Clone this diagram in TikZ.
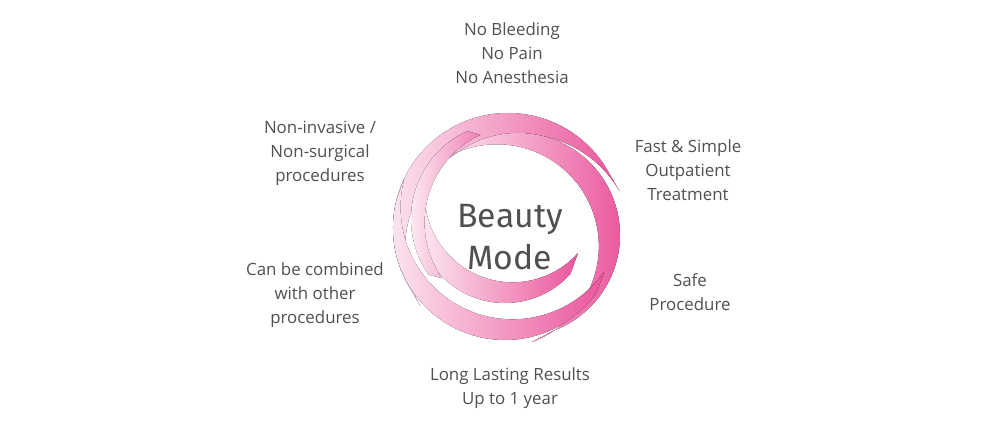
\documentclass[tikz,border=0pt]{standalone}
\usepackage{fontspec}
\setmainfont{Open Sans}
\newfontfamily\titlefont{Fira Sans}
\definecolor{rosy}{RGB}{234,86,156}
\definecolor{labelgray}{RGB}{80,80,80}
% crescent: center x, center y, radius, start, end, shift angle, shift
\newcommand{\crescent}[7]{%
  \fill[left color=rosy!12, right color=rosy]
    (#1,#2) ++(#4:#3) arc[start angle=#4, end angle=#5, radius=#3]
    -- ($(#1,#2)+(#6:#7)+(#5:#3)$) arc[start angle=#5, end angle=#4, radius=#3] -- cycle;}
\usetikzlibrary{calc}
\begin{document}
\begin{tikzpicture}[x=0.025cm,y=0.025cm,font=\fontsize{12}{17}\selectfont,
    label/.style={text=labelgray, align=center, inner sep=0pt}]
    \useasboundingbox (0,0) rectangle (1000,431);

    \crescent{508}{203}{115}{30}{210}{300}{24}
    \crescent{518}{196}{102}{125}{-70}{208}{24}
    \crescent{505}{203}{112}{165}{325}{70}{22}
    \crescent{505}{216}{88}{183}{318}{70}{22}
    \crescent{508}{212}{97}{115}{215}{345}{14}

    \node[label, font=\titlefont\fontsize{24}{30}\selectfont] (mode) at (510,194) {Beauty\\Mode};

    \node[label] (top) at (512,378) {No Bleeding\\No Pain\\No Anesthesia};
    \node[label] (invasive) at (320,278) {Non-invasive /\\Non-surgical\\procedures};
    \node[label] (fast) at (688,261) {Fast \& Simple\\Outpatient\\Treatment};
    \node[label] (safe) at (690,139) {Safe\\Procedure};
    \node[label] (combined) at (315,136) {Can be combined\\with other\\procedures};
    \node[label] (lasting) at (510,43) {Long Lasting Results\\Up to 1 year};
\end{tikzpicture}
\end{document}
